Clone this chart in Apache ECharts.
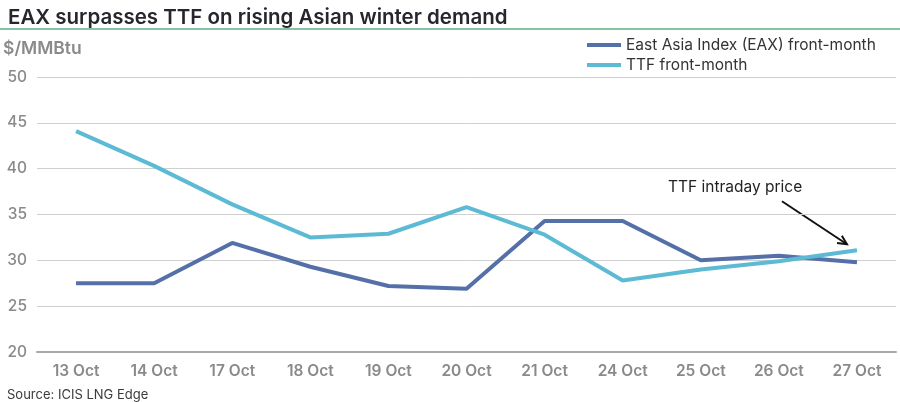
<!DOCTYPE html>
<html><head><meta charset="utf-8">
<script src="https://cdn.jsdelivr.net/npm/echarts@6/dist/echarts.min.js"></script>
<style>html,body{margin:0;padding:0;background:#fff}#c{width:900px;height:402px}</style>
</head><body><div id="c"></div>
<script>
const categories = ['13 Oct','14 Oct','17 Oct','18 Oct','19 Oct','20 Oct','21 Oct','24 Oct','25 Oct','26 Oct','27 Oct'];
const eaxValues = [27.5, 27.5, 31.9, 29.3, 27.2, 26.9, 34.3, 34.3, 30.0, 30.5, 29.8];
const ttfValues = [44.1, 40.3, 36.1, 32.5, 32.9, 35.8, 32.8, 27.8, 29.0, 29.9, 31.1];
const yTicks = [20, 25, 30, 35, 40, 45, 50];
const seriesNames = ['East Asia Index (EAX) front-month', 'TTF front-month'];

const chart = echarts.init(document.getElementById('c'));
const FONT = 'Inter, "Noto Sans", sans-serif';
const option = {
  animation: false,
  textStyle: {fontFamily: FONT},
  title: [{
    text: 'EAX surpasses TTF on rising Asian winter demand',
    left: 3, top: 2,
    textStyle: {fontSize: 20.5, fontWeight: 600, color: '#26262e', fontFamily: FONT}
  }, {
    text: 'Source: ICIS LNG Edge',
    left: 2, top: 384,
    textStyle: {fontSize: 13, fontWeight: 400, color: '#3a3a3a', fontFamily: FONT}
  }],
  legend: {
    orient: 'vertical', left: 582, top: 32,
    itemWidth: 34, itemHeight: 4, itemGap: 4, icon: 'rect',
    textStyle: {fontSize: 15.5, color: '#333', fontFamily: FONT},
    data: seriesNames
  },
  grid: {left: 37, right: 4, top: 77, bottom: 50},
  xAxis: {
    type: 'category', data: categories, boundaryGap: true,
    axisLine: {lineStyle: {color: '#a8a8a8', width: 2}},
    axisTick: {show: false},
    axisLabel: {color: '#8a8a8a', fontSize: 15.5, fontWeight: 600, margin: 11, fontFamily: FONT}
  },
  yAxis: {
    type: 'value', min: yTicks[0], max: yTicks[yTicks.length-1], interval: 5,
    name: '$/MMBtu', nameLocation: 'end', nameGap: 19,
    nameTextStyle: {color: '#8a8a8a', fontSize: 17.5, fontWeight: 600, align: 'left', padding: [0,0,0,-34], fontFamily: FONT},
    axisLine: {show: false}, axisTick: {show: false},
    axisLabel: {color: '#8a8a8a', fontSize: 15.5, fontWeight: 500, margin: 10, fontFamily: FONT},
    splitLine: {lineStyle: {color: '#cfcfcf', width: 1}}
  },
  series: [{
    name: seriesNames[0], type: 'line', data: eaxValues, symbol: 'none',
    lineStyle: {color: '#5570a8', width: 4}, itemStyle: {color: '#5570a8'}
  }, {
    name: seriesNames[1], type: 'line', data: ttfValues, symbol: 'none',
    lineStyle: {color: '#5dbad5', width: 4}, itemStyle: {color: '#5dbad5'}
  }],
  graphic: [{
    type: 'line', shape: {x1: 0, y1: 29, x2: 900, y2: 29},
    style: {stroke: '#86c3a6', lineWidth: 2}
  }]
};
chart.setOption(option);

// annotation anchored to the last TTF point
const last = categories.length - 1;
const p = chart.convertToPixel({gridIndex: 0}, [last, ttfValues[last]]);
const ax = p[0] - 10, ay = p[1] - 6;
const bx = ax - 65, by = ay - 43;
const ang = Math.atan2(ay - by, ax - bx);
const hl = 10;
chart.setOption({graphic: [
  option.graphic[0],
  {type: 'line', shape: {x1: bx, y1: by, x2: ax, y2: ay}, style: {stroke: '#111', lineWidth: 2}},
  {type: 'polyline', shape: {points: [
    [ax - hl*Math.cos(ang - 0.45), ay - hl*Math.sin(ang - 0.45)], [ax, ay],
    [ax - hl*Math.cos(ang + 0.45), ay - hl*Math.sin(ang + 0.45)]]},
    style: {stroke: '#111', lineWidth: 2, fill: null}},
  {type: 'text', x: bx - 114, y: by - 22,
    style: {text: 'TTF intraday price', font: '400 15.5px ' + FONT, fill: '#222'}}
]});
</script>
</body></html>
